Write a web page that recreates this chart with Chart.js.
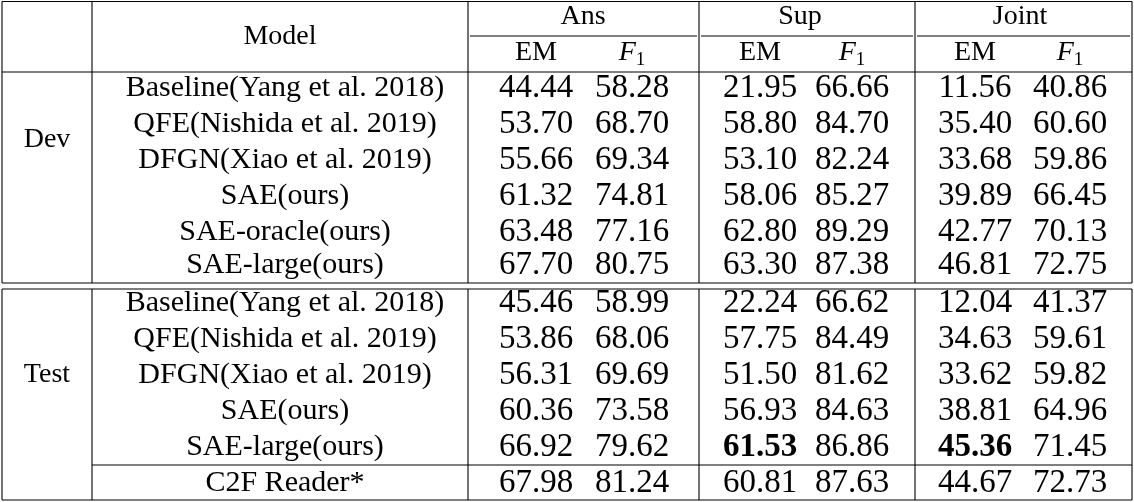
<!DOCTYPE html>
<html><head><meta charset="utf-8">
<script src="https://cdn.jsdelivr.net/npm/chart.js@4"></script>
<style>html,body{margin:0;padding:0;background:#fff}#c{display:block}</style>
</head><body>
<div style="width:1134px;height:502px"><canvas id="c"></canvas></div>
<script>
const groups = ["Dev", "Test"];
const devModels = ["Baseline(Yang et al. 2018)","QFE(Nishida et al. 2019)","DFGN(Xiao et al. 2019)","SAE(ours)","SAE-oracle(ours)","SAE-large(ours)"];
const devValues = [
 ["44.44","58.28","21.95","66.66","11.56","40.86"],
 ["53.70","68.70","58.80","84.70","35.40","60.60"],
 ["55.66","69.34","53.10","82.24","33.68","59.86"],
 ["61.32","74.81","58.06","85.27","39.89","66.45"],
 ["63.48","77.16","62.80","89.29","42.77","70.13"],
 ["67.70","80.75","63.30","87.38","46.81","72.75"]];
const testModels = ["Baseline(Yang et al. 2018)","QFE(Nishida et al. 2019)","DFGN(Xiao et al. 2019)","SAE(ours)","SAE-large(ours)"];
const testValues = [
 ["45.46","58.99","22.24","66.62","12.04","41.37"],
 ["53.86","68.06","57.75","84.49","34.63","59.61"],
 ["56.31","69.69","51.50","81.62","33.62","59.82"],
 ["60.36","73.58","56.93","84.63","38.81","64.96"],
 ["66.92","79.62","61.53","86.86","45.36","71.45"]];
const extraModel = "C2F Reader*";
const extraValues = ["67.98","81.24","60.81","87.63","44.67","72.73"];
const boldCells = [[4,2],[4,4]];
const metricGroups = ["Ans","Sup","Joint"];

const tablePlugin = {
  id:'table',
  afterDraw(chart){
    const ctx = chart.ctx, X = v=>chart.scales.x.getPixelForValue(v), Y = v=>chart.scales.y.getPixelForValue(v);
    ctx.save();
    ctx.strokeStyle='#000'; ctx.fillStyle='#000'; ctx.lineWidth=1.1;
    const hl=(y,x1,x2)=>{ctx.beginPath();ctx.moveTo(X(x1),Y(y));ctx.lineTo(X(x2),Y(y));ctx.stroke();};
    const vl=(x,y1,y2)=>{ctx.beginPath();ctx.moveTo(X(x),Y(y1));ctx.lineTo(X(x),Y(y2));ctx.stroke();};
    const F='"Liberation Serif", "Times New Roman", serif';
    const txt=(s,x,y,bold,size)=>{ctx.font=(bold?'bold ':'')+(size||28)+'px '+F;ctx.textAlign='center';ctx.textBaseline='middle';ctx.fillText(s,X(x),Y(y));};
    const f1=(x,y)=>{ctx.textBaseline='middle';ctx.font='italic 28px '+F;const w1=ctx.measureText('F').width;ctx.font='19px '+F;const w2=ctx.measureText('1').width;
      const sx=X(x)-(w1+w2)/2;ctx.textAlign='left';ctx.font='italic 28px '+F;ctx.fillText('F',sx,Y(y));ctx.font='19px '+F;ctx.fillText('1',sx+w1,Y(y)+7);};
    hl(1.5,2,1132); hl(72,2,1132); hl(283,2,1132); hl(289,2,1132); hl(465,92,1132); hl(500,2,1132);
    hl(36,470,697); hl(36,701,913); hl(36,917,1130);
    [2,92,468,699,915,1132].forEach(x=>{vl(x,1.5,283);vl(x,289,500);});
    txt("Model",280,37);
    const mx=[583,800,1020];
    metricGroups.forEach((g,i)=>txt(g,mx[i],17));
    const cx=[536,632,760,852,975,1070];
    cx.forEach((x,i)=>{ if(i%2==0) txt("EM",x,53); else f1(x,53); });
    const devY=[88,124,160,196,232,265], testY=[303,339,375,411,447];
    const N=33;
    txt(groups[0],47,140); txt(groups[1],47,375);
    devModels.forEach((m,r)=>{txt(m,285,devY[r],false,30); devValues[r].forEach((v,c)=>txt(v,cx[c],devY[r],false,N));});
    testModels.forEach((m,r)=>{txt(m,285,testY[r],false,30); testValues[r].forEach((v,c)=>txt(v,cx[c],testY[r],boldCells.some(b=>b[0]==r&&b[1]==c),N));});
    txt(extraModel,285,483,false,30); extraValues.forEach((v,c)=>txt(v,cx[c],483,false,N));
    ctx.restore();
  }
};
new Chart(document.getElementById('c'),{
  type:'scatter',
  data:{datasets:[{data:[]}]},
  options:{responsive:true,maintainAspectRatio:false,animation:false,layout:{padding:0},
    plugins:{legend:{display:false},tooltip:{enabled:false}},
    scales:{x:{type:'linear',min:0,max:1134,display:false},y:{type:'linear',min:0,max:502,reverse:true,display:false}}},
  plugins:[tablePlugin]
});
</script></body></html>
